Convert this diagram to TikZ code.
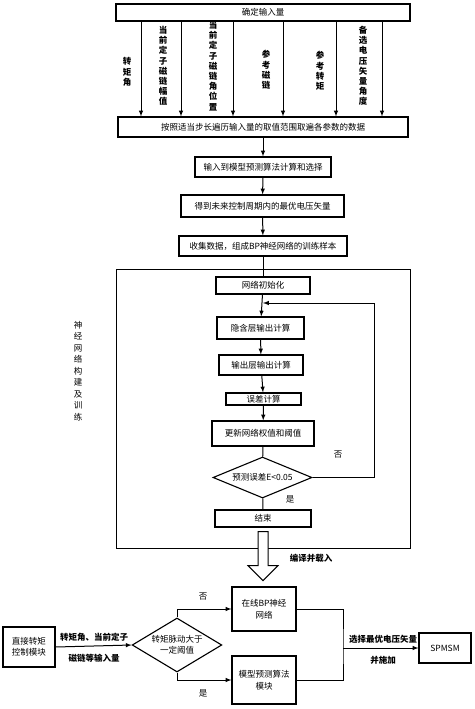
\documentclass[tikz,border=0pt]{standalone}
\usepackage{fontspec}
\setmainfont{Noto Sans CJK SC}
\usetikzlibrary{arrows,positioning,calc,shapes.geometric}

\begin{document}
\begin{tikzpicture}[x=1pt,y=-1pt,>=latex,
  every node/.append style={font=\fontsize{8.5}{11.5}\selectfont},
  box/.style={draw,line width=1.1pt,inner sep=1pt,align=center},
  cond/.style={draw,line width=1.1pt,diamond,aspect=2,inner sep=0pt,align=center},
  vlabel/.style={align=center,inner sep=0pt,font=\fontsize{8.5}{10.2}\selectfont\bfseries},
  tag/.style={inner sep=0pt,font=\fontsize{8.5}{11.5}\selectfont\bfseries},
  flow/.style={line width=1pt}]
\useasboundingbox (0,0) rectangle (474,709);

% data generation
\node[box,minimum width=294pt,minimum height=17pt] (input) at (263,12.5) {确定输入量};
\node[box,minimum width=290pt,minimum height=20pt] (scan) at (263,127) {按照适当步长遍历输入量的取值范围取遍各参数的数据};
\node[box,minimum width=136pt,minimum height=20pt] (predict) at (263,167) {输入到模型预测算法计算和选择};
\node[box,minimum width=163pt,minimum height=22pt] (optimal) at (262.5,206) {得到未来控制周期内的最优电压矢量};
\node[box,minimum width=168pt,minimum height=20pt] (collect) at (263,246) {收集数据，组成BP神经网络的训练样本};

\foreach \x [count=\i] in {141,181,233,283,336,382}{
  \coordinate (a\i) at (\x,0);
  \draw[flow,->] (input.south -| a\i) -- (scan.north -| a\i);
}
\foreach \x/\y/\t [count=\i] in {127/72/{转\\矩\\角},163/66/{当\\前\\定\\子\\磁\\链\\幅\\值},
    213/66/{当\\前\\定\\子\\磁\\链\\角\\位\\置},266/70/{参\\考\\磁\\链},
    320/71/{参\\考\\转\\矩},363/66/{备\\选\\电\\压\\矢\\量\\角\\度}}
  \node[vlabel] (lab\i) at (\x,\y) {\t};

\draw[flow,->] (scan) -- (predict);
\draw[flow,->] (predict) -- (optimal);
\draw[flow,->] (optimal) -- (collect);

% network training
\draw[line width=0.6pt] (116,269) rectangle (410,548);
\node[inner sep=0pt,align=center,font=\fontsize{8.5}{11.5}\selectfont] (side) at (78,371) {神\\经\\网\\络\\构\\建\\及\\训\\练};

\node[box,minimum width=94pt,minimum height=17pt] (init) at (263,285.5) {网络初始化};
\node[box,minimum width=87pt,minimum height=22pt] (hidden) at (260.5,328) {隐含层输出计算};
\node[box,minimum width=84pt,minimum height=20pt] (outl) at (261,365) {输出层输出计算};
\node[box,minimum width=75pt,minimum height=12pt,inner sep=0pt] (err) at (263.5,399) {误差计算};
\node[box,minimum width=102pt,minimum height=25pt] (update) at (263,433.5) {更新网络权值和阈值};
\node[cond,minimum width=99pt,minimum height=41pt] (check) at (262.5,477.5) {预测误差E<0.05};
\node[box,minimum width=96pt,minimum height=17pt] (end) at (263,518.5) {结束};
\node (no1) at (338,455) {否};
\node (yes1) at (290,499) {是};

\draw[flow] (collect) -- (init);
\draw[flow,->] (init) -- (hidden);
\draw[flow,->] (hidden) -- (outl);
\draw[flow,->] (outl) -- (err);
\draw[flow,->] (err) -- (update);
\draw[flow] (update) -- (check);
\draw[flow] (check) -- (end);
\coordinate (loop) at (374,303);
\draw[flow] (check.east) -| (loop);
\draw[flow,->] (loop) -- (loop -| init.south);

\draw[line width=1pt,fill=white] ($(end.south)+(-5,4)$) -- ++(0,34) -- ++(-10,0) -- ++(15,15)
  -- ++(15,-15) -- ++(-10,0) -- ++(0,-34) -- cycle;
\node[tag] (load) at (311,558) {编译并载入};

% online control
\node[box,minimum width=52pt,minimum height=40pt] (dtc) at (29,647) {直接转矩\\控制模块};
\node[cond,minimum width=78pt,minimum height=54pt] (judge) at (177,645) {转矩脉动大于\\一定阈值};
\node[box,minimum width=64pt,minimum height=44pt] (online) at (264,609) {在线BP神经\\网络};
\node[box,minimum width=64pt,minimum height=48pt] (mpc) at (264,680) {模型预测算法\\模块};
\node[box,minimum width=52pt,minimum height=30pt] (spmsm) at (445,648) {SPMSM};

\node[tag] (in1) at (94,637) {转矩角、当前定子};
\node[tag] (in2) at (94,658) {磁链等输入量};
\node[tag] (out1) at (383,639) {选择最优电压矢量};
\node[tag] (out2) at (383,660) {并施加};
\node (no2) at (203,597) {否};
\node (yes2) at (203,693) {是};

\draw[flow,->] (dtc.east) -- (judge.west);
\draw[flow,->] (judge.north) |- (online.west);
\draw[flow,->] (judge.south) |- (mpc.west);
\coordinate (merge) at (343,648);
\draw[flow] (online.east) -| (merge) |- (mpc.east);
\draw[flow,->] (merge) -- (spmsm.west);
\end{tikzpicture}
\end{document}
